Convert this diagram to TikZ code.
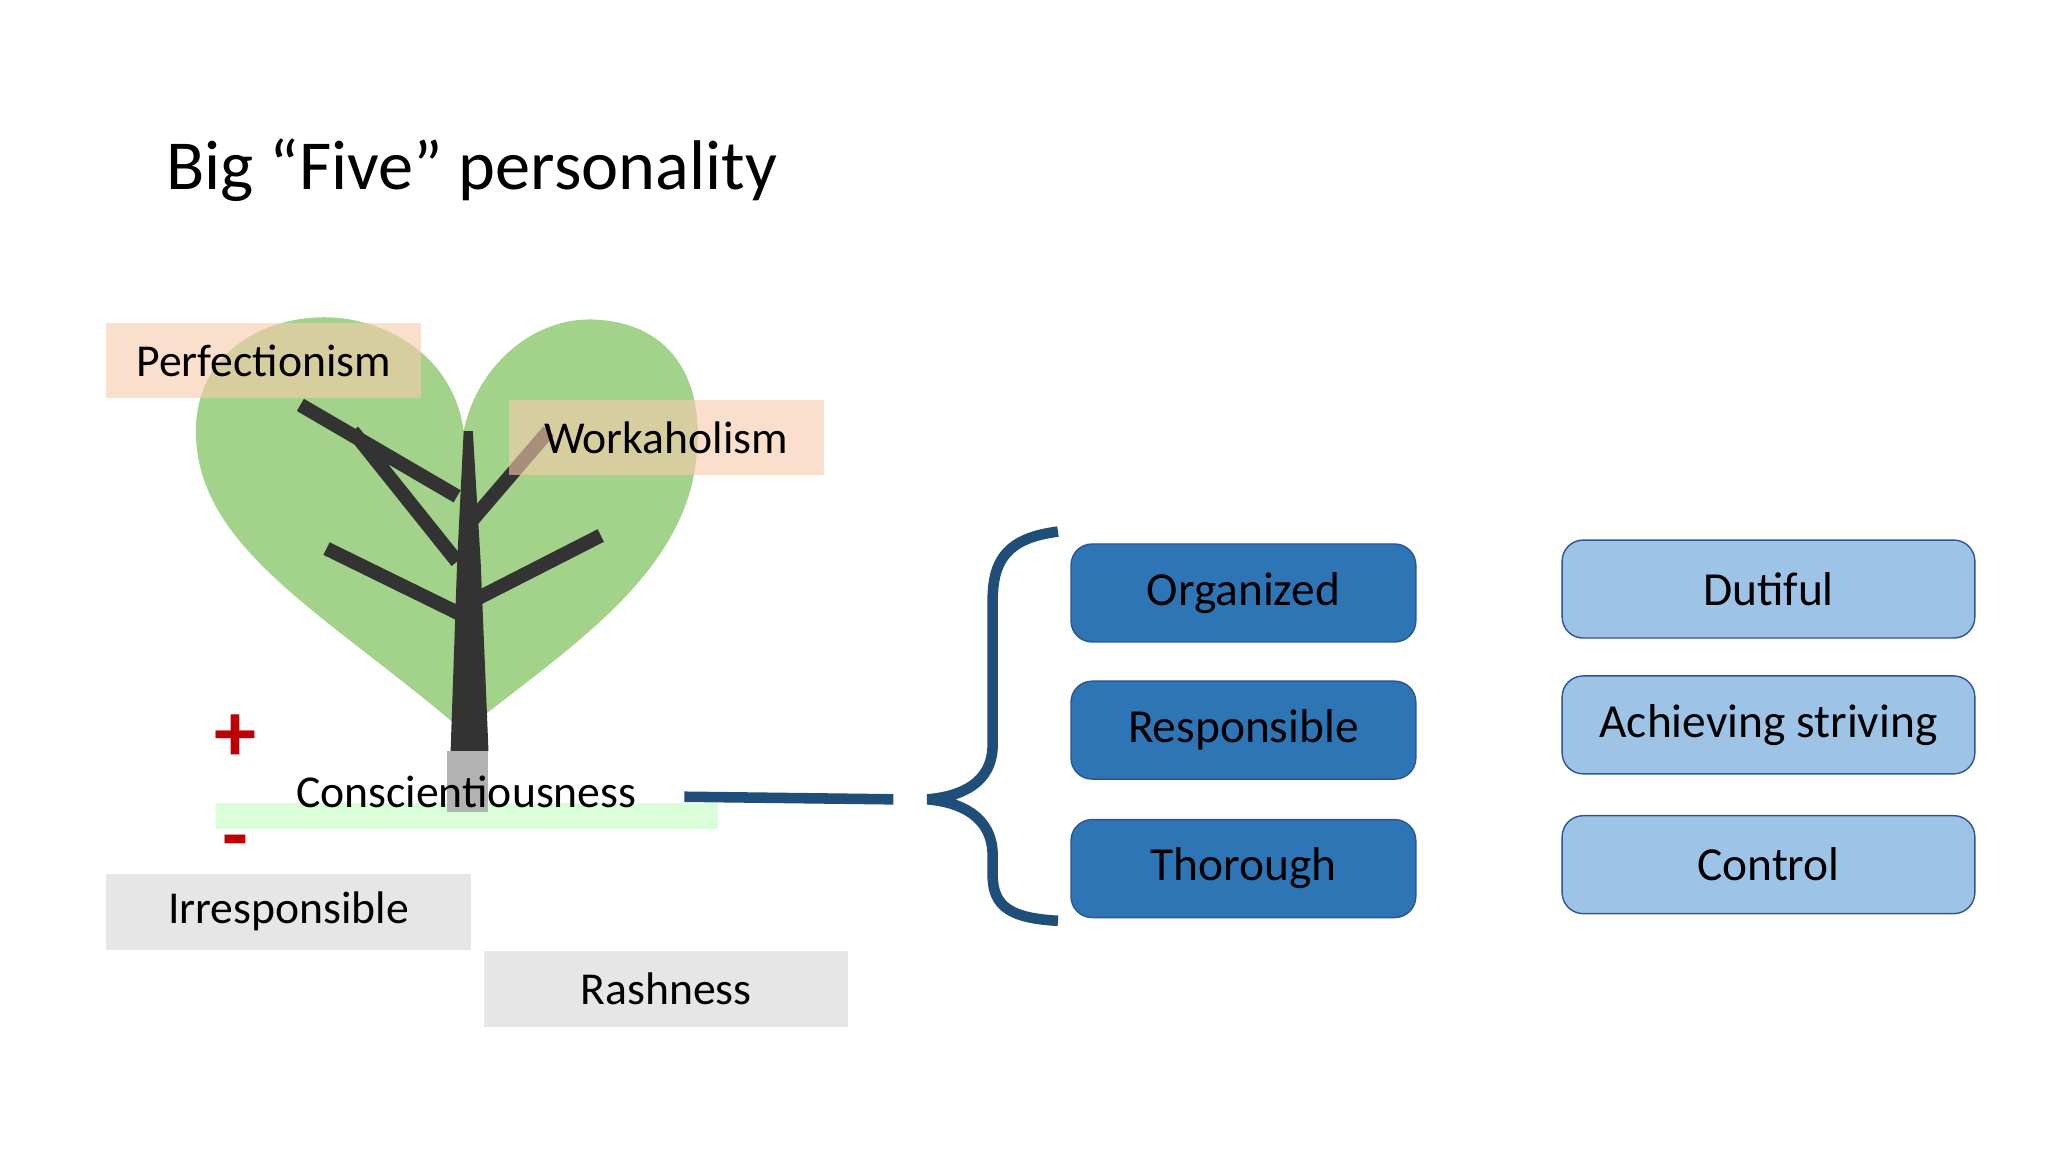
\documentclass[tikz,border=0pt]{standalone}
\usepackage{fontspec}
\setmainfont{Carlito}
\usetikzlibrary{positioning}
\definecolor{peach}{RGB}{248,203,173}
\definecolor{darkblue}{RGB}{46,117,182}
\definecolor{lightblue}{RGB}{157,195,230}
\definecolor{edgeblue}{RGB}{47,84,150}
\definecolor{bracecol}{RGB}{31,78,121}
\definecolor{greyfill}{RGB}{231,230,230}
\definecolor{leaf}{RGB}{140,200,110}
\tikzset{
  tag/.style={minimum width=241\unitx, minimum height=58\unitx, font=\fontsize{13pt}{15pt}\selectfont, inner sep=0pt},
  facet/.style={draw=edgeblue, rounded corners=6pt, minimum width=264\unitx, minimum height=75\unitx, font=\fontsize{13.5pt}{16pt}\selectfont, inner sep=0pt},
}
\newlength{\unitx}\setlength{\unitx}{0.01306cm}
\begin{document}
\begin{tikzpicture}[x=0.01306cm, y=-0.01306cm]
  \useasboundingbox[fill=white] (0,0) rectangle (1568,882);
  % title
  \node[anchor=west, font=\fontsize{20pt}{24pt}\selectfont] (title) at (118,130) {Big “Five” personality};
  % tree
  \fill[leaf!80!white] (355,560) .. controls (250,470) and (150,420) .. (150,330)
     .. controls (150,260) and (220,235) .. (270,245)
     .. controls (320,255) and (350,290) .. (355,330)
     .. controls (365,280) and (410,240) .. (460,245)
     .. controls (520,250) and (545,300) .. (530,370)
     .. controls (510,450) and (430,500) .. (355,560) -- cycle;
  \fill[green!15] (165,615) rectangle (550,635);
  \fill[black!80] (345,575) -- (350,430) -- (355,330) -- (362,330) -- (368,430) -- (374,575) -- cycle;
  \draw[black!80, line width=4pt] (352,470) -- (250,420) (350,430) -- (270,330) (360,400) -- (420,330) (362,460) -- (460,410) (350,380) -- (230,310);
  \fill[gray!60] (342,575) rectangle (374,622);
  \node[tag, fill=peach, fill opacity=0.6, text opacity=1] (perf) at (202,276) {Perfectionism};
  \node[tag, fill=peach, fill opacity=0.6, text opacity=1] (work) at (510,335) {Workaholism};
  \node[text=red!75!black, font=\bfseries\fontsize{24pt}{24pt}\selectfont] (plus) at (180,565) {+};
  \node[text=red!75!black, font=\bfseries\fontsize{24pt}{24pt}\selectfont] (minus) at (180,650) {-};
  \node[font=\fontsize{13pt}{15pt}\selectfont] (consc) at (357,606) {Conscientiousness};
  \node[tag, fill=greyfill, minimum width=279\unitx] (irr) at (221,698) {Irresponsible};
  \node[tag, fill=greyfill, minimum width=279\unitx] (rash) at (510,757) {Rashness};
  % brace
  \coordinate (tip) at (710,612);
  \draw[bracecol, line width=3pt] (524,610) -- (684,612);
  \draw[bracecol, line width=3pt] (810,407) .. controls (770,412) and (760,430) .. (760,460)
     -- (760,570) .. controls (760,600) and (735,610) .. (tip)
     .. controls (735,614) and (760,625) .. (760,655)
     -- (760,670) .. controls (760,695) and (775,703) .. (810,705);
  % facets
  \node[facet, fill=darkblue] (org) at (952,454) {Organized};
  \node[facet, fill=darkblue] (resp) at (952,559) {Responsible};
  \node[facet, fill=darkblue] (thor) at (952,665) {Thorough};
  \node[facet, fill=lightblue, minimum width=316\unitx] (dut) at (1354,451) {Dutiful};
  \node[facet, fill=lightblue, minimum width=316\unitx] (ach) at (1354,555) {Achieving striving};
  \node[facet, fill=lightblue, minimum width=316\unitx] (ctrl) at (1354,662) {Control};
\end{tikzpicture}
\end{document}
